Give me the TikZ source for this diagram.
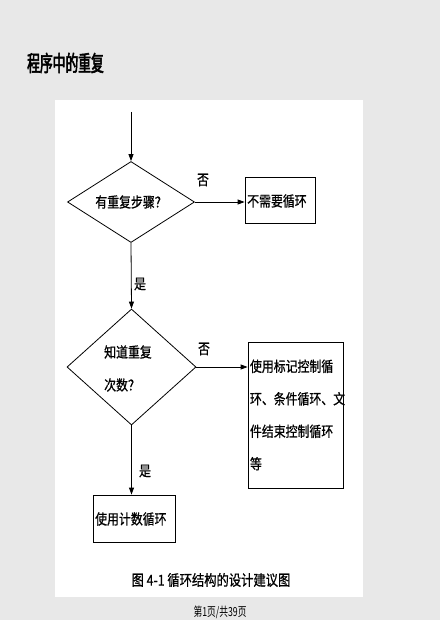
\documentclass[tikz,border=0pt]{standalone}
\usepackage{fontspec}
\usetikzlibrary{shapes.geometric,arrows.meta}
\newfontfamily\cjk[FakeStretch=0.82,FakeBold=0.8]{Noto Sans CJK SC}
\newfontfamily\cjktitle[FakeStretch=0.58,FakeBold=2.5]{Noto Sans CJK SC}
\newfontfamily\cjkfoot[FakeStretch=0.7]{Noto Sans CJK SC}
\definecolor{pagebg}{RGB}{232,232,232}
\tikzset{
  every node/.style={font=\cjk\fontsize{14.5}{17}\selectfont, inner sep=0pt},
  decision/.style={draw, diamond, line width=0.8pt},
  procbox/.style={draw, rectangle, line width=0.8pt},
  flowarrow/.style={draw, line width=0.8pt, -{Triangle[length=7pt,width=5pt]}},
  flowlabel/.style={font=\cjk\fontsize{14.5}{17}\selectfont},
}
\begin{document}
\begin{tikzpicture}[x=1pt,y=-1pt]
\useasboundingbox (0,0) rectangle (440,620);
\fill[pagebg] (0,0) rectangle (440,620);
\fill[white] (55,100) rectangle (363,597);
\node[font=\cjktitle\fontsize{22}{24}\selectfont, anchor=west] (title) at (27,63) {程序中的重复};

\coordinate (start) at (131,112);
\node[decision, minimum width=127pt, minimum height=81pt] (d1) at (131,202) {};
\node (d1t) at (131,202) {有重复步骤？};
\node[procbox, minimum width=70pt, minimum height=46pt] (b1) at (280,200) {};
\node[anchor=west] (b1t) at (247,201) {不需要循环};

\node[decision, minimum width=129pt, minimum height=116pt] (d2) at (131.5,367) {};
\node[anchor=west] (d2ta) at (104,352) {知道重复};
\node[anchor=west] (d2tb) at (104,385) {次数？};

\node[procbox, minimum width=95pt, minimum height=146pt, align=left, text width=91pt, inner xsep=2pt,
      font=\cjk\fontsize{14.5}{32.5}\selectfont] (b2) at (295.5,415)
  {使用标记控制循\\环、条件循环、文\\件结束控制循环\\等};

\node[procbox, minimum width=82pt, minimum height=47pt] (b3) at (134,518.5) {};
\node[anchor=west] (b3t) at (95,519) {使用计数循环};

\draw[flowarrow] (start) -- (d1.north);
\draw[flowarrow] (d1.east) -- (b1.west |- d1.east);
\draw[flowarrow] (d1.south) -- (d2.north);
\draw[flowarrow] (d2.east) -- (d2.east -| b2.west);
\draw[flowarrow] (d2.south) -- (d2.south |- b3.north);

\node[flowlabel] (no1) at (203,180) {否};
\node[flowlabel] (yes1) at (140,284) {是};
\node[flowlabel] (no2) at (204,349) {否};
\node[flowlabel] (yes2) at (145,471) {是};

\node[font=\cjk\fontsize{15}{17}\selectfont] (cap) at (211,580) {图 4-1 循环结构的设计建议图};
\node[font=\cjkfoot\fontsize{12.5}{14}\selectfont] (foot) at (220,612) {第1页/共39页};
\end{tikzpicture}
\end{document}
